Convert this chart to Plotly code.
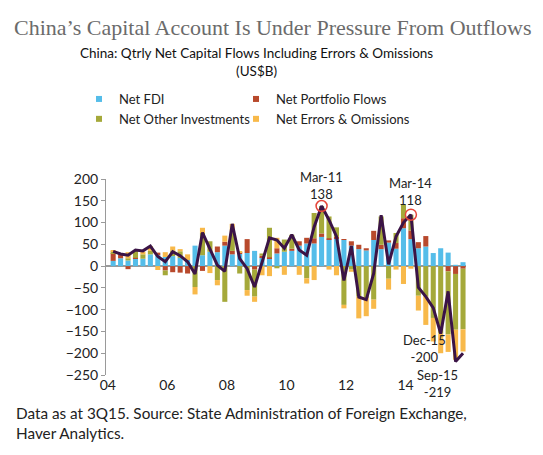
import plotly.graph_objects as go

# Quarterly data 2004Q1 .. 2015Q4 (US$B)
quarters = [f"{y}Q{q}" for y in range(2004, 2016) for q in range(1, 5)]
net_fdi = [12, 18, 13, 18, 17, 27, 25, 21, 23, 19, 14, 47, 25, 33, 32, 47,
           27, 28, 30, 35, 20, 18, 29, 33, 35, 47, 52, 52, 67, 62, 63, 60,
           47, 39, 36, 60, 39, 54, 40, 87, 62, 41, 45, 30, 41, 31, 3, 9]
net_portfolio = [18, 9, -7, 1, 0, 0, 6, -10, -14, -15, -17, 0, -11, 0, 13, 9,
                 8, 4, 32, -8, 4, 2, 12, 0, 5, 10, 13, 12, 8, 2, 4, 2,
                 10, 10, 5, 21, 10, 5, 13, 23, 20, 14, 24, 0, 0, -12, -18, -6]
net_other = [4, 0, 5, 18, 10, 8, 0, -11, 13, 15, 0, -48, 51, 24, -32, -82,
             42, -17, -55, -62, 5, 68, -5, 28, 32, 0, -28, 58, 63, 50, 22, -89,
             -8, -70, -73, -77, 65, -29, 23, 31, 36, -68, -70, -119, -155, -145, -128, -139]
net_eo = [1, 1, 14, 0, 6, 11, -9, 11, 9, 5, 13, -17, 12, -16, -12, 14,
          20, 1, -13, -12, -21, -23, 24, -20, 0, -20, -12, -32, 0, -8, -21, -8,
          -5, -50, -42, -21, 0, -25, -8, -41, -6, -34, -65, -54, -45, -40, -69, -51]
total = [34, 28, 25, 37, 35, 46, 22, 10, 33, 24, 10, -18, 77, 41, 2, -12,
         97, 17, -6, -48, 8, 65, 60, 41, 72, 37, 25, 90, 138, 106, 68, -33,
         46, -71, -77, -17, 117, 4, 68, 100, 118, -49, -70, -96, -155, -58, -219, -200]

tick_vals = [2004, 2006, 2008, 2010, 2012, 2014]
tick_text = ["04", "06", "08", "10", "12", "14"]
y_ticks = [200, 150, 100, 50, 0, -50, -100, -150, -200, -250]

highlight_idx = [28, 40]
callouts = [
    ("Mar-11<br>138", 28, 143),
    ("Mar-14<br>118", 40, 128),
]

# x positions: decimal year, bars centred within quarters
xpos = [int(q[:4]) + (int(q[-1]) - 1) / 4 + 0.18 for q in quarters]

series = [
    ("Net FDI", net_fdi, "#55BDE9", "legend"),
    ("Net Portfolio Flows", net_portfolio, "#B8492C", "legend2"),
    ("Net Other Investments", net_other, "#A5A93A", "legend"),
    ("Net Errors & Omissions", net_eo, "#F8B94A", "legend2"),
]

FONT = "Lato"
fig = go.Figure()
for name, vals, col, lg in series:
    fig.add_trace(go.Bar(x=xpos, y=vals, name=name, marker=dict(color=col, line=dict(width=0)),
                         width=0.17, showlegend=False))
for name, vals, col, lg in series:
    fig.add_trace(go.Scatter(x=[None], y=[None], mode="markers", name=name, legend=lg,
                             marker=dict(symbol="square", size=6, color=col)))

fig.add_trace(go.Scatter(x=xpos, y=total, mode="lines", line=dict(color="#3B1446", width=3),
                         showlegend=False))
fig.add_trace(go.Scatter(x=[xpos[i] for i in highlight_idx], y=[total[i] for i in highlight_idx],
                         mode="markers", showlegend=False, cliponaxis=False,
                         marker=dict(symbol="circle-open", size=11, color="#E5463A",
                                     line=dict(width=1.5, color="#E5463A"))))

annotations = []
for txt, i, yv in callouts:
    annotations.append(dict(x=xpos[i], y=yv, xref="x", yref="y", text=txt, showarrow=False,
                            yanchor="bottom", font=dict(family=FONT, size=13, color="#222")))
annotations.append(dict(x=2014.62, y=-189, xref="x", yref="y", text="Dec-15<br>-200",
                        showarrow=False, font=dict(family=FONT, size=13, color="#222")))
annotations.append(dict(x=(452 - 98) / 360, y=-(394 - 367) / 196, xref="paper", yref="paper",
                        text="Sep-15<br>-219", showarrow=False,
                        font=dict(family=FONT, size=13, color="#222")))
annotations.append(dict(xref="paper", yref="paper", x=-92 / 360, y=-(415 - 367) / 196,
                        xanchor="left", yanchor="middle", align="left", showarrow=False,
                        text="Data as at 3Q15. Source: State Administration of Foreign Exchange,<br>Haver Analytics.",
                        font=dict(family=FONT, size=15.3, color="#222")))
annotations.append(dict(xref="paper", yref="paper", x=(248 - 98) / 360, y=1 + (171 - 54) / 196,
                        xanchor="center", yanchor="middle", showarrow=False,
                        text="China: Qtrly Net Capital Flows Including Errors & Omissions<br>(US$B)",
                        font=dict(family=FONT, size=13.5, color="#111")))

legend_common = dict(orientation="v", yanchor="top", y=1 + (171 - 76) / 196, xanchor="left",
                     font=dict(family=FONT, size=13, color="#222"), tracegroupgap=0,
                     bgcolor="rgba(0,0,0,0)")

fig.update_layout(
    width=543, height=455,
    margin=dict(l=98, r=85, t=171, b=88),
    paper_bgcolor="white", plot_bgcolor="white",
    barmode="relative",
    title=dict(text="China’s Capital Account Is Under Pressure From Outflows",
               x=6 / 543, xanchor="left", y=1 - 19 / 455, yanchor="middle",
               font=dict(family="Liberation Serif", size=22, color="#6B6B6B")),
    legend=dict(x=-27 / 360, **legend_common),
    legend2=dict(x=130 / 360, **legend_common),
    annotations=annotations,
    xaxis=dict(range=[2003.94, 2016.03], tickvals=tick_vals, ticktext=tick_text, showgrid=False,
               zeroline=False, showline=False, ticks="", tickfont=dict(family=FONT, size=14, color="#222")),
    yaxis=dict(range=[-250, 200], tickvals=y_ticks, showgrid=False, zeroline=True,
               zerolinecolor="#9A9A9A", zerolinewidth=1.5, showline=True, linecolor="#9A9A9A",
               linewidth=1, ticks="outside", ticklen=4, tickcolor="#9A9A9A",
               tickfont=dict(family=FONT, size=14, color="#222")),
    showlegend=True,
)
fig.write_html("out.html")
